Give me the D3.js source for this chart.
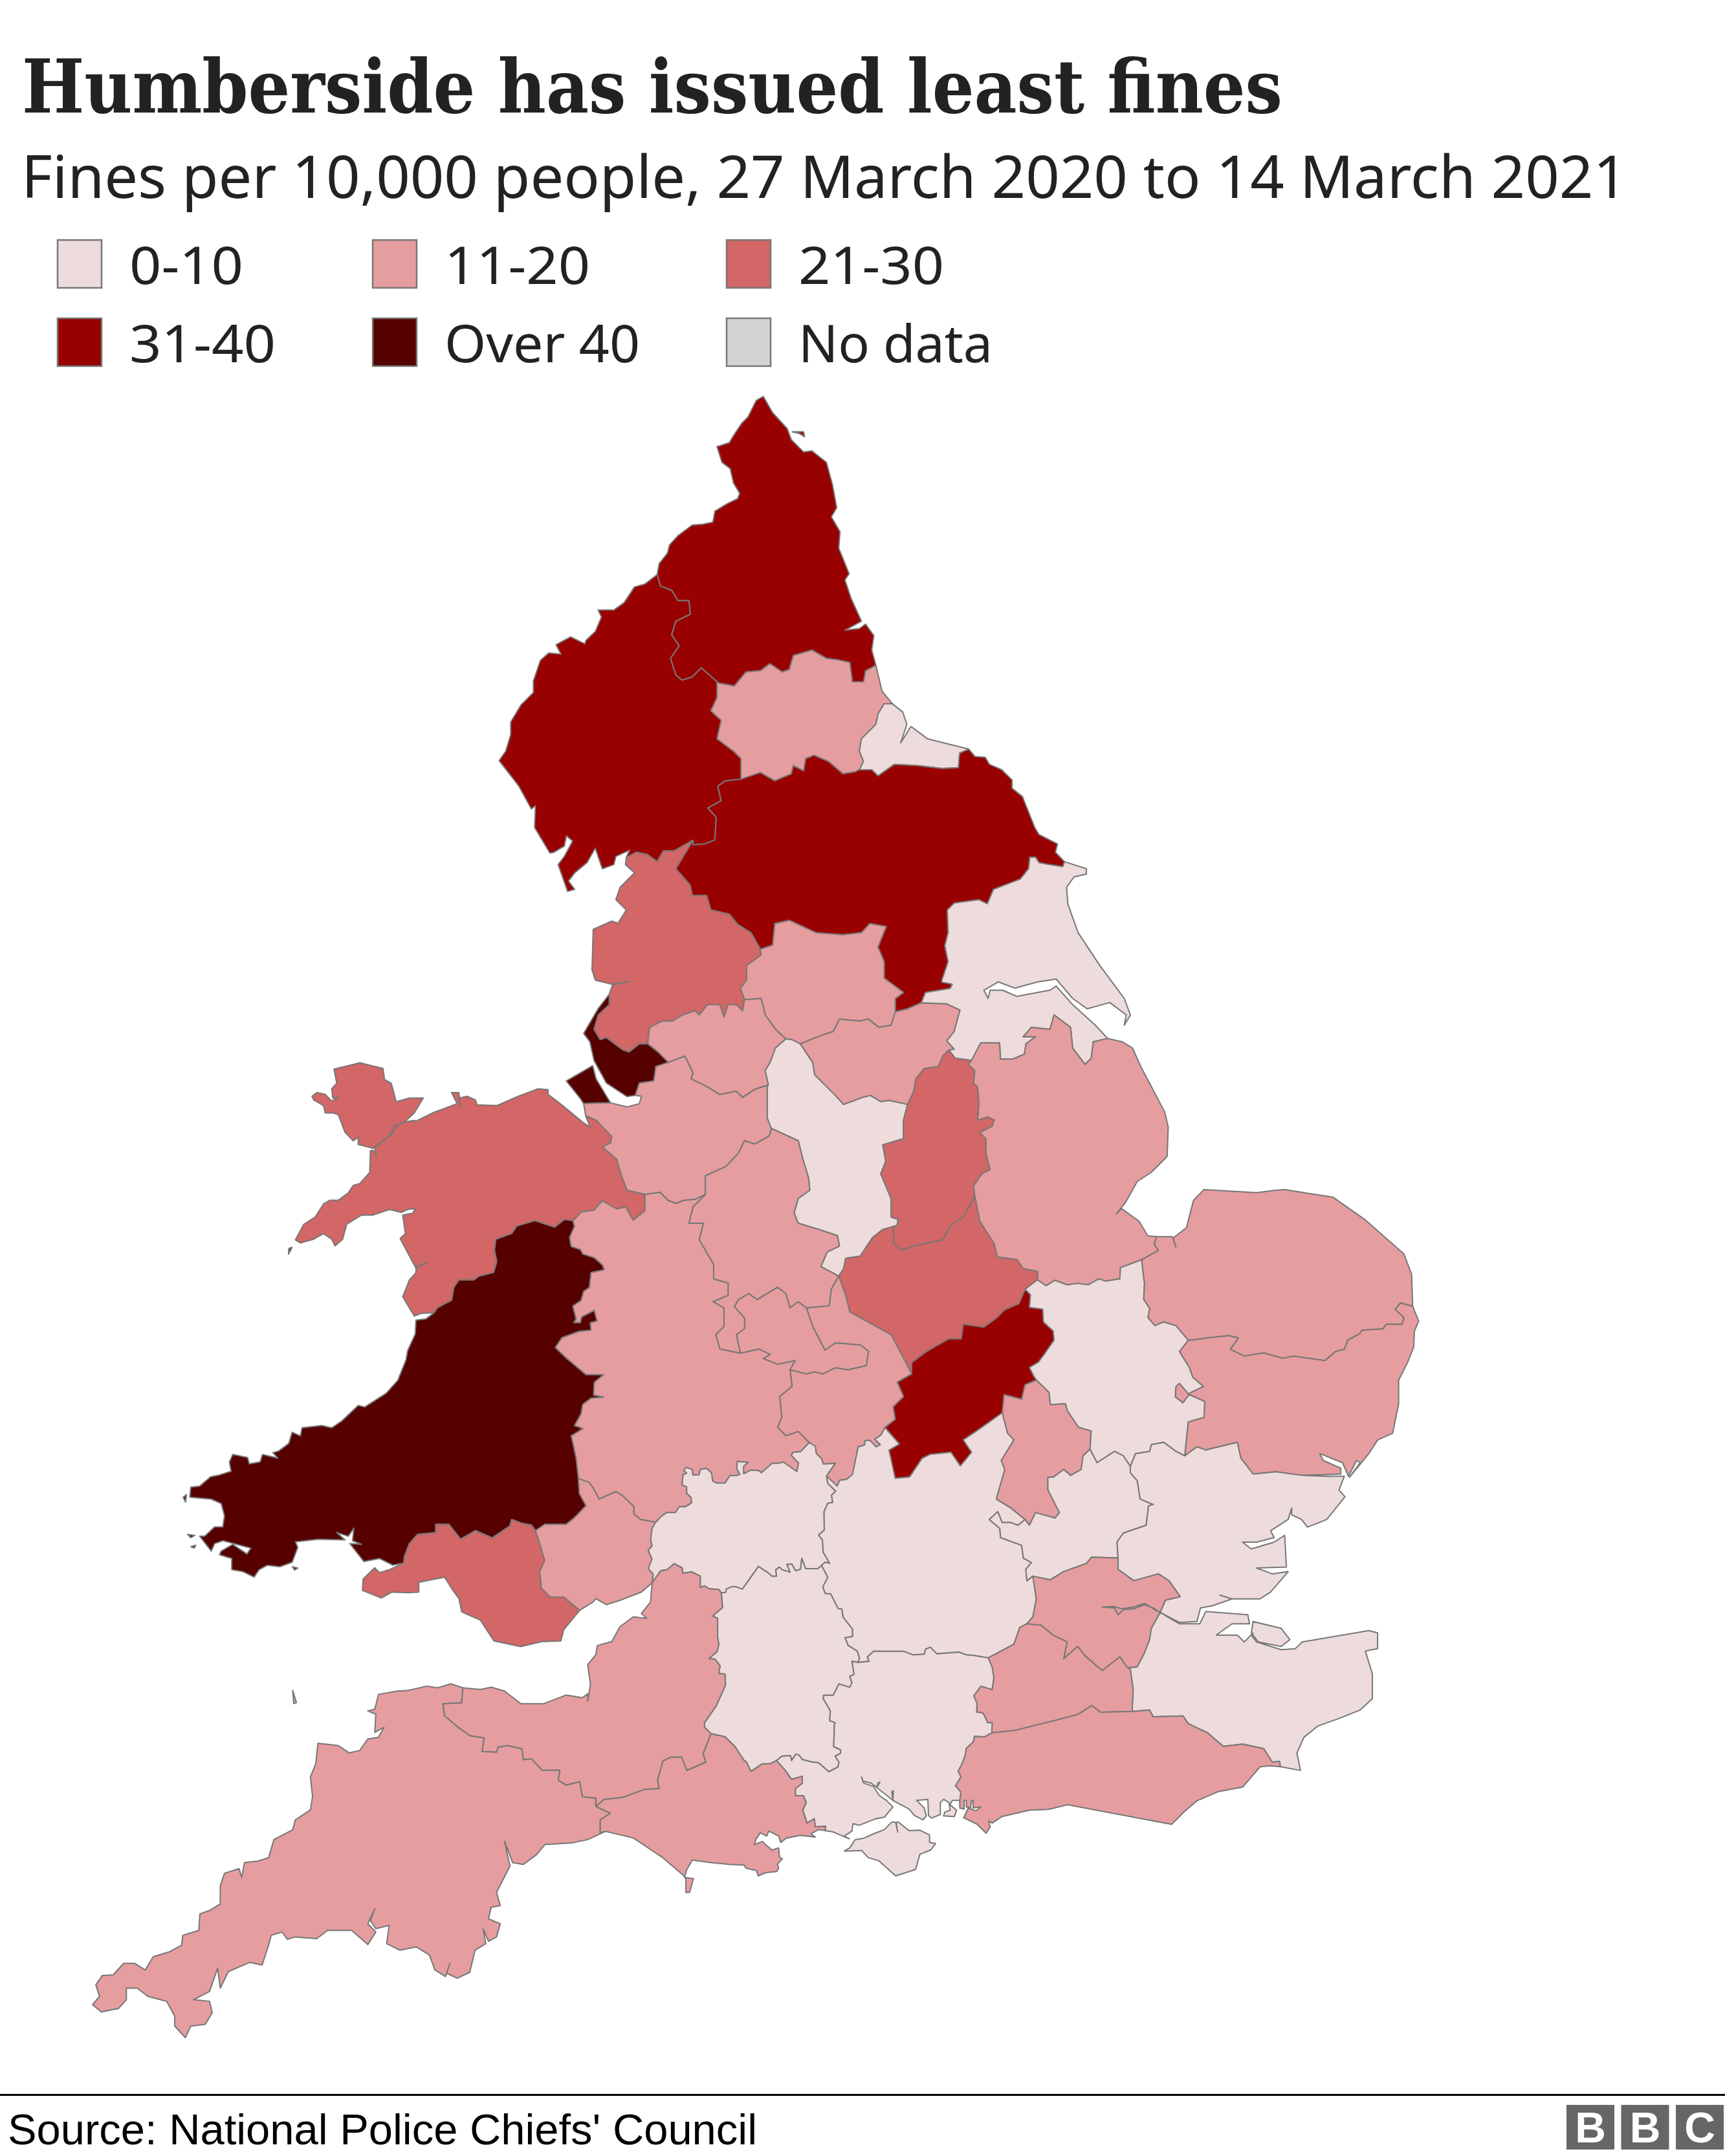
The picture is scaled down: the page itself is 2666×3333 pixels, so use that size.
<!DOCTYPE html>
<html>
<head>
<meta charset="utf-8">
<script src="https://cdn.jsdelivr.net/npm/d3@7"></script>
<style>
  html, body { margin: 0; padding: 0; background: #fff; }
  svg { display: block; }
</style>
</head>
<body>
<script>
// Legend
var bands = ["0-10", "11-20", "21-30", "31-40", "Over 40", "No data"];
var bandColours = ["#eedbdb", "#e59d9f", "#d36666", "#990000", "#560000", "#d3d3d3"];

// Map sheets the boundaries were traced on: left, top, width, height, traced width, traced height
var sheets = {
  N: [700, 600, 1000, 1000, 1568, 1568],
  M: [800, 1400, 1000, 1000, 1568, 1568],
  W: [250, 1600, 800, 900, 1568, 1568],
  E: [1400, 1700, 850, 1100, 1568, 1568],
  S: [100, 2400, 1300, 800, 1568, 1568],
  H: [1150, 2500, 500, 450, 1500, 1350],
  G: [1000, 2200, 600, 500, 1568, 1500]
};

// Boundary arcs, [sheet, x, y, x, y, ...]
// north
var nbCoast = ["N",495,452,500,425,520,400,525,380,545,358,580,332,605,330,630,325,635,298,665,280,690,268,695,255,680,230,672,195,652,180,640,142,670,132,680,115,700,85,715,70,735,30,752,20,775,60,810,98,820,125,850,155,870,152,905,180,920,235,930,290,917,312,938,348,935,388,960,450,950,465,965,510,990,565,950,587,985,583,1000,572,1020,600,1015,635,1025,672];
var holyIsland = ["N",822,106,850,106,852,118,840,110,822,106];
var nbDu = ["N",1025,672,1000,685,995,712,968,712,962,665,930,658,905,655,870,635,825,648,815,682,798,688,768,668,745,685,710,688,682,722,645,715,640,712];
var nbCu = ["N",640,712,602,678,580,700,555,708,540,695,527,655,548,625,530,598,540,565,575,548,572,515,545,515,530,490,503,480,495,452];
var cuCoast = ["N",495,452,465,475,440,482,415,520,390,538,352,538,360,555,345,590,322,612,320,620,285,603,250,622,262,645,232,642,212,660,195,710,195,738,165,768,140,810,140,840,128,880,112,903,160,965,190,1020,200,1012,198,1065,235,1127,245,1125,270,1110,275,1085,290,1098,270,1135,255,1155,278,1220,295,1215,280,1195,295,1175,325,1150,345,1115,362,1165,390,1155,395,1135,428,1120,420,1138];
var cuLa = ["N",420,1138,445,1125,470,1130,495,1148,510,1122,535,1122,582,1096];
var cuNy = ["N",582,1096,582,1107,610,1105,635,1095,638,1040,618,1018,650,1000,642,965,660,952,698,948];
var cuDu = ["N",698,948,698,898,680,880,640,850,650,805,625,782,640,750,640,712];
var duCoast = ["N",1025,672,1040,735,1065,765];
var duCl = ["N",1065,765,1045,765,1030,790,1025,815,990,850,985,880,995,905,985,925];
var duNy = ["N",985,925,975,930,945,935,910,905,875,890,855,898,850,928,825,915,820,935,780,952,745,932,698,948];
var clCoast = ["N",1065,765,1090,785,1100,815,1085,860,1110,820,1150,850,1190,860,1250,875];
var clNy = ["N",1250,875,1228,885,1225,920,1185,922,1125,915,1070,912,1030,940,1015,925,985,925];
var nyCoast = ["N",1250,875,1265,893,1290,895,1300,912,1330,925,1355,950,1355,970,1380,990,1400,1040,1410,1065,1420,1082,1465,1105,1460,1125,1482,1148];
var nyHu = ["N",1482,1148,1478,1160,1445,1155,1420,1150,1412,1137,1398,1137,1395,1165,1375,1190,1310,1215,1295,1250,1275,1240,1215,1248,1198,1265,1200,1320,1192,1352,1200,1390,1185,1435,1185,1440,1210,1445,1205,1455,1145,1465,1135,1490];
var nySy = ["N",1135,1490,1100,1505,1072,1512];
var nyWy = ["N",1072,1512,1072,1480,1092,1465,1045,1430,1045,1390,1030,1355,1050,1305,1010,1298,990,1320,945,1325,880,1320,815,1290,780,1298,775,1350,745,1360];
var nyLa = ["N",745,1360,722,1320,690,1300,670,1275,625,1265,615,1230,580,1230,575,1205,540,1165,582,1096];
var laCoast = ["N",420,1138,418,1155,440,1175,405,1210,395,1240,420,1265,400,1297,385,1292,340,1312,337,1410,345,1435,385,1445,428,1438];
var laCoast2 = ["M",272,182,230,192,222,215];
var laMe = ["M",222,215,222,240,195,265,185,300,200,325,215,320,255,350,270,355,295,335,315,335];
var laGm = ["M",315,335,320,295,350,280,375,280,400,265,430,255,440,265,460,240,490,240,500,270,510,240,530,240,545,255,550,228];
var laWy = ["M",550,228,540,200,555,180,555,145,590,120,590,105];
var wySy = ["M",915,265,905,290,875,295,850,275,830,280,780,275,765,305,735,315,710,325,685,335];
var wyDe = ["M",685,335,665,325,650,323];
var wyGm = ["M",650,323,625,300,600,265,590,225,550,228];
var gmMe = ["M",315,335,340,355,365,380];
var gmCh = ["M",365,380,405,365,425,405,420,420,455,437,490,458,530,450,545,465,575,445,608,435];
var gmDe = ["M",608,435,600,400,612,380,625,345,650,323];
var meCoast = ["M",222,215,195,250,160,310,175,330,185,375,215,430,265,463,285,460];
var meCh = ["M",285,460,295,430,330,425,335,390,365,380];
var wirral = ["M",118,425,182,388,190,420,225,478,160,480,150,465,118,425];
var chCoast = ["M",285,460,300,462,295,480,265,488,225,478,160,480,165,510];
var chNw = ["M",165,510,190,520,228,560,225,575,205,585,240,615,250,650,265,690,308,700];
var chWm = ["M",308,700,345,695,365,715,385,722,400,715,430,712,455,700];
var chSt = ["M",455,700,455,655,505,632,535,600,550,570,575,578,610,558,615,540];
var chDe = ["M",615,540,605,515,605,435,608,435];
var deSy = ["M",685,335,715,380,720,410,750,440,770,460,790,482,835,465,855,460,880,475,900,472,945,482];
var deNt = ["M",945,482,935,520,935,565,885,580,892,620,880,650,905,710,905,755,922,760,920,775,910,778];
var deLe = ["M",910,778,885,785,860,805,830,850,795,855,790,880,778,898];
var deSt = ["M",778,898,735,875,750,840,780,825,775,800,730,785,680,770,670,745,680,710,708,690,705,660,690,610,680,570,620,537];
var syHu = ["M",975,240,1040,238,1072,253,1058,305,1040,328,1058,348,1045,350];
var syNt = ["M",1045,350,1030,365,1020,390,985,395,965,420,960,450,945,482];
var huCoast = ["N",1482,1148,1535,1165,1535,1178,1505,1185,1487,1210,1490,1250,1515,1320,1568,1400];
var huCoast2 = ["M",1411,146,1470,225,1485,265,1470,290,1475,265,1435,235,1380,250,1345,225,1305,178,1260,185,1205,200,1165,185,1130,205,1140,225,1145,205,1175,205,1210,220,1290,205,1305,195,1345,240,1400,290,1430,322];
var huLi = ["M",1430,322,1395,330,1390,370,1375,385,1345,345,1340,295,1300,265,1290,300,1245,295,1225,318,1255,318,1232,335,1228,360,1200,372,1170,372,1168,333,1122,333,1100,375];
var huNt = ["M",1100,375,1060,370,1045,350];
var ntLi = ["M",1100,375,1092,385,1108,400,1105,430,1115,440,1118,480,1115,520,1140,512,1155,520,1150,535,1120,550,1135,565,1135,600,1145,640,1125,650,1105,680,1108,705];
var ntLe = ["M",1108,705,1080,755,1050,775,1030,810,960,825,930,835,912,820,910,778];
var liCoast = ["M",1430,322,1465,330,1490,345,1510,390,1568,500];
var liCoast2 = ["E",748,60,745,125,700,160,660,180,625,228,600,252,615,240,665,268,690,300,715,302];
var liNf = ["E",715,302,708,318,720,332,672,353];
var liCa = ["E",672,353,640,362,612,370,610,395,570,400,550,395,520,408,490,405,460,408,425,398,400,410,375,397];
var leLi = ["M",1108,705,1120,765,1155,820,1162,852,1210,858,1225,880,1260,887];
var leCa = ["E",375,397,340,418];
var leNo = ["M",1235,930,1215,965,1180,980,1160,1000,1130,1022,1080,1015,1075,1050,1045,1050,1010,1070,985,1085,955,1108,955,1135];
var leWa = ["M",955,1135,905,1040,805,985,795,945,780,905];
var stLe = ["M",780,905,778,898];
// east
var nfCoast = ["E",715,302,760,302,770,325,762,305,800,282,820,222,850,198,1000,205,1050,200,1080,198,1218,215,1310,265,1420,340,1442,385,1445,455];
var nfSf = ["E",1445,455,1410,448,1395,462,1420,480,1415,495,1370,495,1360,505,1300,508,1295,515,1260,530,1250,550,1225,555,1195,575,1105,565,1075,570,1020,558,965,565,925,550,948,525,920,520,860,525,815,530,805,530];
var nfCa = ["E",805,530,770,498,735,490,710,498,690,480,695,460,678,440,680,405,672,353];
var sfCoast = ["E",1445,455,1462,488,1450,510,1448,545,1430,580,1405,618,1405,670,1388,735,1345,750,1320,780,1265,832,1295,800,1285,795,1262,830,1245,800,1180,780,1190,795,1240,812,1240,825,1130,828];
var esSf = ["E",1130,828,1055,820,990,825,955,790,945,755,855,772,830,765,795,785];
var sfCa = ["E",795,785,805,710,850,700,852,665,808,650,790,668,768,655,770,632,780,625,805,648,848,632,818,612,808,590,780,555,805,530];
var caEs = ["E",795,785,770,775,735,755,700,760,695,775,655,780,640,808];
var caHe = ["E",640,808,620,785,595,775,545,800,525,770];
var caBd = ["E",525,770,528,730,492,722,460,685,455,670,412,672,408,645,372,618];
var caNo = ["E",372,618,365,610,352,590,378,578,395,560,422,530,420,510,392,490,390,462,352,458,355,430,340,418];
var noBd = ["E",372,618,340,628,330,660,280,650,275,690];
var noTv = ["M",1170,1240,1110,1275,1080,1295,1100,1325,1073,1358,1050,1325,1000,1330,980,1340,950,1385,915,1388,900,1320,925,1305,890,1265];
var noWa = ["M",890,1265,915,1245,910,1215,935,1190,920,1155,955,1135];
var bdTv = ["E",275,690,290,735,308,750,272,795,282,815,258,880,300,900,340,925];
var bdHe = ["E",525,770,505,785,500,815,470,828,450,815,420,832,405,832,405,860,438,910,425,922,370,910,352,938,340,925];
var heTv = ["E",340,925,320,938,300,932,275,932,262,908,238,925,268,945,270,965,330,982,335,1010,358,1020,342,1035,345,1060,362,1050];
var heLo = ["E",362,1050,412,1058,450,1040,515,1022,530,1008,605,1010];
var heEs = ["E",640,808,640,822,660,840,668,880,705,892,692,895,685,938,620,955,602,975,605,1010];
var loEs = ["E",605,1010,605,1035,650,1060,720,1045,750,1060,782,1095,740,1103,725,1130];
var thames = ["E",725,1130,705,1120,680,1113,650,1122,620,1124,605,1135,595,1120,560,1118,595,1117,615,1122,650,1118,680,1110,710,1124,725,1135];
var esCoast = ["E",1130,828,1200,830,1250,830,1235,860,1252,875,1200,925,1145,942,1128,925,1100,915,1100,900,1090,925,1040,950,1050,965,1000,975,960,975,985,990,1050,975,1080,960,1085,1030,1000,1032,1045,1045,1090,1040,1040,1085,1010,1100,930,1100,895,1092,930,1100,875,1115,840,1120,830,1150,780,1152,725,1130];
var loKe = ["E",725,1135,700,1165,695,1190,680,1220,660,1250,632,1252];
var suLo = ["E",345,1155,385,1158,420,1180,460,1195,450,1232,490,1205,510,1225,540,1245,560,1258,610,1228,632,1252];
var loTv = ["E",362,1050,372,1100,362,1140,345,1155];
var suTv = ["E",345,1155,325,1163,308,1200,235,1230];
var suSx = ["E",245,1395,310,1390,415,1370,490,1355,530,1335,555,1350,645,1348];
var keSu = ["E",632,1252,640,1255,648,1300,645,1348];
var keSx = ["E",645,1348,695,1345,705,1360,790,1358,805,1375,860,1395,905,1425,960,1420,1020,1430,1045,1460,1065,1458,1068,1470];
var keCoast = ["E",1068,1470,1125,1478,1115,1440,1135,1405,1175,1380,1230,1365,1295,1345,1330,1320,1330,1265,1310,1215,1345,1210,1345,1175,1320,1170,1130,1195,1110,1210,1070,1212,1000,1195,985,1180,990,1175,965,1195,945,1180,885,1180,930,1155,980,1155,975,1135,855,1128,838,1155,780,1155,725,1135];
var sheppey = ["E",990,1150,1070,1165,1095,1190,1070,1205,1005,1195,985,1175,990,1150];
var sxCoast2 = ["E",758,1597,795,1568,830,1545,890,1525,960,1515,1010,1470,1040,1468,1068,1470];
// south
var sxCoast = ["H",1000,850,1000,885,1020,890,1020,850,1030,850,1030,880,1050,885,1055,850,1062,850,1062,885,1098,880,1075,898,1040,885,1018,930,1080,960,1122,1002,1140,975,1135,945,1150,955,1195,925,1325,895,1410,892,1500,870];
var suHa = ["H",1122,205,1150,232,1158,280,1150,335,1098,320,1065,365,1080,400,1078,440,1108,445,1130,490,1150,490,1142,527];
var haSx = ["H",1142,527,1115,555,1068,552,1062,578,1030,608,1025,640,1010,680,992,715,1005,740,980,782,1005,812,1000,850];
var haCoast = ["H",1000,850,965,850,955,870,985,895,975,925,925,922,930,905,955,895,950,860,925,845,910,860,910,915,870,932,855,920,852,845,800,850,835,885,845,920,830,940,790,920,765,890,690,850,692,805,685,810,690,850,615,790,630,765,620,770,615,790,590,770,550,760,545,742,555,770,600,785,625,825,660,850,690,880,650,928,610,935,535,965,505,958,500,992,465,1015,488,1028,465,1018,410,995,375,990];
var wight = ["H",465,1085,490,1070,515,1032,555,1025,600,1005,650,985,685,950,703,952,712,997,705,952,715,950,765,990,815,988,860,1010,860,1045,888,1050,865,1080,815,1100,795,1170,703,1200,625,1130,575,1115,545,1082,465,1085];
var wiHa = ["H",150,665,175,645,215,642,220,665,240,635,255,640,270,660,315,672,345,675,393,717,435,695,440,672,422,645,447,632,447,615,415,600,418,535,418,500,423,490,397,480,400,435,385,408,368,380,368,362,413,362,440,310,490,325,500,305,490,275,510,265,498,205];
var wiDo2 = ["H",0,665,10,670,32,715,85,680,120,680,150,665];
var doHa = ["H",150,665,190,710,220,752,270,738,270,770,238,795,238,828,275,828,288,860,272,895,292,955,325,935,330,972,378,970,375,990];
var doCoast = ["H",375,990,345,985,310,1005,330,1020,260,1012,195,1025,170,1045,160,1015,115,992,105,1015,75,1000,55,1030,48,1055,85,1040,105,1060,130,1080,160,1070,165,1115,178,1120,155,1145,160,1165,150,1180,100,1185,65,1200,58,1175,10,1165,0,1150];
var glWm = ["G",35,460,60,430,80,415,115,415,130,388,155,388,180,370,178,345,160,325,160,295,142,288,145,240,160,232,148,220,158,205,182,215,185,240,210,240,215,215,240,210,260,230,265,268,280,278,315,278,335,243,362,243,375,238,362,210,365,178,408,182,390,200,390,235,420,218,450,220,462,230,505,187,530,187,550,180,605,225,612,185,583,150,590,135,620,133,655,90];
var glWa = ["G",655,90,680,108,683,140,705,165,712,190,760,187,725,245];
var tvWa = ["G",725,245,768,292,778,265,805,262,830,238,853,110,878,102,882,80,900,80,925,110,942,100,920,75,945,55,963,12];
var glTv = ["G",725,245,730,280,762,315,745,335,750,368,730,372,715,410,716,495,693,520,708,540,712,600,738,650,720,645,705,660];
var glWi = ["G",705,660,690,675,640,675,625,628,620,678,600,685,585,655,565,655,578,692,545,680,535,668,520,680,523,710,505,710,490,695,450,665,385,770,362,760,345,758,320,770,318,785,300,788];
var glAv = ["G",300,788,290,772,250,768,232,755,215,762,215,710,180,690,145,697,142,672,110,652,80,680,55,685,35,745];
var gwGl = ["G",35,745,25,700,5,675,20,630,5,590,20,570,15,540,20,490,35,460];
var wiAv = ["G",300,788,305,855,265,895,285,905,285,990,290,1025,283,1060,250,1092,275,1095,295,1125,290,1160,315,1165,317,1215,280,1310,232,1390,232,1410,258,1440];
var wiDo1 = ["G",258,1440,315,1455,355,1500];
var wiTv = ["G",705,660,730,715,710,760,720,790,742,792,772,860,787,862,792,900,830,955,830,990,800,995,812,1030,850,1058,858,1090,852,1110,828,1105];
var haTv = ["G",1370,1100,1320,1078,1290,1075,1260,1062,1170,1070,1145,1040,1125,1048,1120,1072,1075,1075,1035,1058,915,1058,890,1085,897,1105,852,1110,828,1105];
var avCoast = ["S",742,410,775,415,795,408,820,420,850,458,893,458,935,432,965,440,975,428,975,450,980,400,975,340,990,310,993,282,1020,270,1035,225,1060,195,1085,200,1075,185,1092,150,1095,92];
var avDe = ["S",990,770,990,745,965,740,960,695,935,705,920,690,923,660,890,660,870,625,855,628,852,595,825,585,808,590,805,605,778,603,782,562,755,555,735,532,708,495,705,458,740,455,742,410];
var doAv = ["S",1200,550,1190,610,1195,635,1160,660,1150,620,1130,620,1115,632,1105,690,1108,715,1080,718,1040,742,1005,748,990,770];
var doDe = ["S",990,770,1017,790,998,810,998,850,1008,845];
var doCoast2 = ["S",1265,955,1240,945,1205,940,1170,932,1160,960,1155,985,1172,988,1165,1030,1158,1030,1158,985,1115,925,1060,865,1008,845];
var deCoast = ["S",742,410,720,398,695,410,675,405,640,418,620,420,585,430,578,475,565,480,580,490,578,545,595,530,585,560,565,565,550,600,530,607,510,585,472,578,468,640,458,680,462,740,458,780,430,810,425,840,390,870,380,925,360,935,335,940,330,985,325,958,298,972,290,1010,290,1065,270,1085,252,1095,250,1145,220,1160,218,1190,195,1210,165,1225,150,1265,130,1245,110,1245,90,1280,70,1282,58,1310,65,1345,52,1370,68,1392,100,1382,115,1355,115,1320,135,1320,155,1345,190,1360,205,1405,205,1435,225,1470,235,1435,262,1430,275,1395,270,1360,240,1355,270,1330,285,1260,290,1320,305,1270,345,1242,368,1250,380,1190,385,1160,405,1150,415,1172,430,1165,470,1170,490,1145,535,1145,565,1188,580,1150,565,1125,578,1080,570,1115,580,1140,605,1130,600,1185,625,1205,655,1195,680,1220,690,1265,710,1285,718,1245,712,1275,732,1290,755,1272,765,1205,785,1185,780,1140,790,1178,805,1165,812,1125,790,1110,795,1075,812,1070,805,1030,830,950,820,875,835,940,855,945,880,915,895,885,945,880,975,870,1008,845];
var lundy = ["S",425,418,432,455,427,458,425,418];
// wales
var nwCoast = ["W",825,748,785,750,765,757,730,705,750,660,770,640,770,625,805,612,770,628,722,548,738,535,730,485,760,480,768,468,745,470,725,478,690,470,640,485,605,485,560,510,548,550,525,568,515,550,490,535,460,550,420,560,405,552,430,510,465,490,490,455,510,445,535,445,565,425,580,405,600,400,630,370,632,312,640,310,650,325,645,305,690,270,710,245,730,235,765,230,770,232,820,210,895,185,878,155,900,155,905,195,900,170,925,165,950,175,955,188,1015,190,1080,165,1140,145,1170,147,1170,160,1200,180,1235,205,1275,235,1298,248];
var nwWm = ["M",140,765,155,742,185,738,205,715,240,735,262,730,280,762,308,740,308,700];
var anglesey = ["W",522,92,600,75,670,90,675,120,695,130,710,180,750,170,792,170,765,210,735,235,705,245,700,265,640,305,595,295,595,275,580,285,555,262,535,215,520,210,495,210,490,190,460,175,455,165,470,155,495,160,515,178,535,168,518,170,515,145,530,130,522,92];
var dpNw = ["W",1245,500,1220,497,1190,518,1130,500,1075,515,1060,535,1012,550,1008,580,1015,610,1005,640,960,650,945,660,900,660,885,680,878,715,855,725,835,735,825,748];
var dpWm = ["W",1262,1195,1255,1140,1245,1098,1240,1080,1275,1060,1250,1052,1270,1020,1275,995,1300,978,1338,975,1308,970,1310,935,1338,915,1285,915,1245,885,1225,870,1192,842,1212,815,1265,798,1300,795,1298,775,1318,770,1310,742,1272,760,1268,775,1248,775,1255,765,1245,730,1270,715,1278,690,1295,680,1300,640,1340,632,1335,620,1310,600,1275,590,1268,578,1240,570,1235,545,1250,515,1245,500];
var dpCoast = ["W",825,748,800,765,770,768,768,805,745,850,740,875,715,930,680,965,615,1002,595,998,545,1040,515,1058,485,1052,425,1058,420,1080,395,1070,385,1100,355,1120,337,1125,352,1140,305,1130,298,1150,265,1155,260,1138,215,1130,205,1150,210,1175,175,1185,148,1190,115,1215,88,1218,85,1245,150,1250,180,1262,190,1295,185,1325,160,1325,130,1350,115,1350,150,1390,160,1370,185,1362,270,1382,258,1398,215,1372,180,1390,175,1400,212,1410,212,1440,245,1445,280,1460,295,1440,320,1428,358,1432,395,1420,412,1380,405,1365,475,1358,555,1360,530,1340,565,1350,582,1328,578,1362,605,1372,570,1370,612,1418,660,1410,700,1428,733,1422];
var dpGw = ["W",1262,1195,1265,1235,1285,1268,1250,1300,1225,1318,1160,1318,1132,1335];
var dpSw = ["W",1132,1335,1120,1320,1090,1315,1060,1305,1055,1322,1000,1355,990,1350,950,1335,905,1358,870,1318,830,1318,830,1340,775,1345];
var dpSw2 = ["W",775,1345,750,1370,735,1405,733,1422];
var skomer = ["W",65,1245,75,1238,72,1258,65,1245];
var ramsey = ["W",78,1345,100,1348,88,1354,78,1345];
var skokholm = ["W",88,1378,103,1374,98,1382,88,1378];
var caldey = ["W",396,1432,412,1436,402,1441,396,1432];
var bardsey = ["W",385,575,395,572,384,590,385,575];
var swCoast = ["W",733,1422,690,1440,660,1448,645,1435,610,1465];
var swCoast2 = ["S",560,75,555,115,590,138,610,120,640,122,660,120,660,90,708,75,725,118,735,140,740,180,775,205,800,268,850,285,890,270,925,268,930,235,960,175];
var gwSw1 = ["W",1132,1335,1145,1370,1160,1415,1145,1445,1150,1490,1175,1515];
var gwSw2 = ["S",905,135,930,135,960,175];
var gwCoast = ["S",960,175,985,150,990,140,1010,158,1035,145,1075,120,1095,92];
var gwWm = ["W",1495,1305,1450,1305,1430,1290,1430,1270,1395,1240,1375,1230,1325,1250,1310,1225,1295,1205,1262,1195];
// midlands
var stWm = ["M",455,700,425,730,415,770,450,770,440,810,475,870,475,905,510,915,510,945,473,960,500,975,500,1020,480,1040,490,1075,540,1085];
var wmiSt = ["M",700,975,680,960,660,975,650,940,630,925,580,955,560,940,535,955,525,972,550,1000,550,1025,530,1040,540,1085];
var wmiWm = ["M",540,1085,585,1075,612,1088,595,1098,630,1112,672,1103,660,1125];
var wmiWa = ["M",660,1125,700,1135,720,1130,740,1135,770,1120,800,1125,845,1115,850,1080,830,1065,770,1060,745,1078,715,1020,700,975];
var wmWa = ["M",660,1125,665,1165,635,1190,640,1240,630,1265,650,1285,680,1275,710,1300];
var stWa = ["M",700,975,755,970,760,930,780,905];

var r = function (arc) { return { rev: arc }; };

// Police forces, one band and one list of rings each
var forceNames = ["Northumbria", "Cumbria", "Durham", "Cleveland", "North Yorkshire", "Lancashire", "West Yorkshire",
  "Greater Manchester", "Merseyside", "Cheshire", "Derbyshire", "South Yorkshire", "Humberside", "Nottinghamshire",
  "Lincolnshire", "Leicestershire", "Norfolk", "Suffolk", "Cambridgeshire", "Northamptonshire", "Warwickshire",
  "West Midlands", "Staffordshire", "West Mercia", "North Wales", "Dyfed-Powys", "South Wales", "Gwent",
  "Gloucestershire", "Wiltshire", "Thames Valley", "Bedfordshire", "Hertfordshire", "Essex", "London", "Kent",
  "Surrey", "Sussex", "Hampshire", "Dorset", "Avon and Somerset", "Devon and Cornwall"];
var forceBands = ["31-40", "31-40", "11-20", "0-10", "31-40", "21-30", "11-20",
  "11-20", "Over 40", "11-20", "0-10", "11-20", "0-10", "21-30",
  "11-20", "21-30", "11-20", "11-20", "0-10", "31-40", "11-20",
  "11-20", "11-20", "11-20", "21-30", "Over 40", "21-30", "11-20",
  "0-10", "0-10", "0-10", "11-20", "0-10", "0-10", "11-20", "0-10",
  "11-20", "11-20", "0-10", "11-20", "11-20", "11-20"];
var forceRings = [
  [[nbCoast, nbDu, nbCu], [holyIsland]],
  [[cuCoast, cuLa, cuNy, cuDu, nbCu]],
  [[r(nbDu), duCoast, duCl, duNy, cuDu]],
  [[clCoast, clNy, r(duCl)]],
  [[nyCoast, nyHu, nySy, nyWy, nyLa, cuNy, r(duNy), r(clNy)]],
  [[laCoast, laCoast2, laMe, laGm, laWy, nyLa, r(cuLa)]],
  [[r(nyWy), wySy, wyDe, wyGm, laWy]],
  [[r(laGm), gmMe, gmCh, gmDe, wyGm]],
  [[r(laMe), meCoast, meCh, r(gmMe)], [wirral]],
  [[chCoast, chNw, chWm, chSt, chDe, r(gmCh), r(meCh)]],
  [[gmDe, r(wyDe), deSy, deNt, deLe, deSt, chDe]],
  [[r(nySy), syHu, syNt, r(deSy), r(wySy)]],
  [[huCoast, huCoast2, huLi, huNt, r(syHu), r(nyHu)]],
  [[r(huNt), ntLi, ntLe, r(deNt), r(syNt)]],
  [[r(huLi), liCoast, liCoast2, liNf, liCa, r(leLi), r(ntLi)]],
  [[leLi, leCa, leNo, leWa, stLe, r(deLe), r(ntLe)]],
  [[nfCoast, nfSf, nfCa, r(liNf)]],
  [[sfCoast, esSf, sfCa, r(nfSf)]],
  [[r(nfCa), r(sfCa), caEs, caHe, caBd, caNo, r(leCa), r(liCa)]],
  [[r(caNo), noBd, noTv, noWa, r(leNo)]],
  [[r(noWa), r(tvWa), r(glWa), r(wmWa), wmiWa, stWa, r(leWa)]],
  [[wmiSt, wmiWm, wmiWa]],
  [[r(chSt), stWm, r(wmiSt), stWa, stLe, deSt]],
  [[chWm, stWm, wmiWm, wmWa, r(glWm), gwWm, dpWm, nwWm]],
  [[nwCoast, chNw, r(nwWm), dpNw], [anglesey]],
  [[r(dpNw), r(dpWm), dpGw, dpSw, dpSw2, r(dpCoast)], [skomer], [ramsey], [skokholm], [caldey], [bardsey]],
  [[dpSw2, swCoast, swCoast2, r(gwSw2), r(gwSw1), dpSw]],
  [[dpGw, gwSw1, gwSw2, gwCoast, gwGl, gwWm]],
  [[glWm, glWa, glTv, glWi, glAv, gwGl]],
  [[r(glWi), wiTv, r(wiHa), r(wiDo2), r(wiDo1), r(wiAv)]],
  [[tvWa, r(noTv), bdTv, heTv, loTv, suTv, haTv, r(wiTv), r(glTv)]],
  [[r(noBd), r(caBd), bdHe, r(bdTv)]],
  [[r(bdHe), r(caHe), heEs, r(heLo), r(heTv)]],
  [[esSf, caEs, heEs, loEs, r(esCoast)]],
  [[heLo, loEs, thames, loKe, r(suLo), r(loTv)]],
  [[keCoast, loKe, keSu, keSx], [sheppey]],
  [[suLo, keSu, r(suSx), r(suHa), r(suTv)]],
  [[suSx, keSx, r(sxCoast2), r(sxCoast), r(haSx)]],
  [[r(haTv), suHa, haSx, haCoast, r(doHa), wiHa], [wight]],
  [[wiDo1, wiDo2, doHa, doCoast, doCoast2, r(doDe), r(doAv)]],
  [[avCoast, r(glAv), wiAv, doAv, avDe]],
  [[r(avDe), doDe, r(deCoast)], [lundy]]
];

// Page scale, sheets to page pixels
var sheetScales = {};
Object.keys(sheets).forEach(function (k) {
  var s = sheets[k];
  sheetScales[k] = {
    x: d3.scaleLinear().domain([0, s[4]]).range([s[0], s[0] + s[2]]),
    y: d3.scaleLinear().domain([0, s[5]]).range([s[1], s[1] + s[3]])
  };
});

// arcs traced on different sheets meet at the same junction point
var nodes = [];
function snap(p) {
  for (var i = 0; i < nodes.length; i++) {
    if (Math.hypot(nodes[i][0] - p[0], nodes[i][1] - p[1]) < 10) return nodes[i];
  }
  nodes.push(p);
  return p;
}

var traced = new Map();
function arcCoords(arc) {
  if (!traced.has(arc)) {
    var sc = sheetScales[arc[0]], pts = [];
    for (var i = 1; i < arc.length; i += 2) pts.push([sc.x(arc[i]), sc.y(arc[i + 1])]);
    pts[0] = snap(pts[0]);
    pts[pts.length - 1] = snap(pts[pts.length - 1]);
    traced.set(arc, pts);
  }
  return traced.get(arc);
}

function ringCoords(parts) {
  var out = [];
  parts.forEach(function (p) {
    var c = arcCoords(p.rev || p);
    out = out.concat(p.rev ? c.slice().reverse() : c);
  });
  out.push(out[0]);
  return out;
}

var features = forceNames.map(function (name, i) {
  return {
    type: "Feature",
    properties: { name: name, band: forceBands[i] },
    geometry: { type: "MultiPolygon", coordinates: forceRings[i].map(function (ring) { return [ringCoords(ring)]; }) }
  };
});

var width = 2666, height = 3333;
var colour = d3.scaleOrdinal(bands, bandColours);
var path = d3.geoPath(d3.geoIdentity());

var svg = d3.select("body").append("svg").attr("width", width).attr("height", height).style("background", "#fff");

svg.append("g").selectAll("path")
  .data(features)
  .join("path")
    .attr("d", path)
    .attr("fill", function (d) { return colour(d.properties.band); })
    .attr("stroke", "#777777")
    .attr("stroke-width", 2)
    .attr("stroke-linejoin", "round");

// Title and subtitle
svg.append("text").attr("x", 34).attr("y", 174)
  .attr("font-family", "'DejaVu Serif', serif").attr("font-weight", 700).attr("font-size", 115)
  .attr("fill", "#222222").attr("textLength", 1948).attr("lengthAdjust", "spacingAndGlyphs")
  .text("Humberside has issued least fines");
svg.append("text").attr("x", 33).attr("y", 306)
  .attr("font-family", "'Noto Sans', sans-serif").attr("font-size", 91)
  .attr("fill", "#222222").attr("textLength", 2482).attr("lengthAdjust", "spacingAndGlyphs")
  .text("Fines per 10,000 people, 27 March 2020 to 14 March 2021");

// Legend, three columns of two rows
var legendX = d3.scaleOrdinal([0, 1, 2], [88, 575, 1122]);
var legendY = d3.scaleOrdinal([0, 1], [370, 491]);
var legendTextWidth = d3.scaleOrdinal(bands, [176, 225, 225, 226, 302, 300]);
var legend = svg.append("g").selectAll("g")
  .data(bands)
  .join("g")
    .attr("transform", function (d, i) { return "translate(" + legendX(i % 3) + "," + legendY(Math.floor(i / 3)) + ")"; });
legend.append("rect")
  .attr("x", 1).attr("y", 1).attr("width", 68).attr("height", 74)
  .attr("fill", function (d) { return colour(d); })
  .attr("stroke", "#777777").attr("stroke-width", 2.5);
legend.append("text")
  .attr("x", 112).attr("y", 69)
  .attr("font-family", "'Noto Sans', sans-serif").attr("font-size", 81).attr("fill", "#222222")
  .attr("textLength", function (d) { return legendTextWidth(d); }).attr("lengthAdjust", "spacingAndGlyphs")
  .text(function (d) { return d; });

// Footer
svg.append("rect").attr("x", 0).attr("y", 3237).attr("width", width).attr("height", 3).attr("fill", "#000");
svg.append("text").attr("x", 12).attr("y", 3315)
  .attr("font-family", "'Liberation Sans', sans-serif").attr("font-size", 66).attr("fill", "#000")
  .attr("textLength", 1158).attr("lengthAdjust", "spacingAndGlyphs")
  .text("Source: National Police Chiefs' Council");

var logo = svg.append("g").selectAll("g")
  .data(["B", "B", "C"])
  .join("g")
    .attr("transform", function (d, i) { return "translate(" + (2421 + i * 84.5) + ",3254)"; });
logo.append("rect").attr("width", 74).attr("height", 69).attr("fill", "#666666");
logo.append("text")
  .attr("x", 37).attr("y", 58)
  .attr("text-anchor", "middle")
  .attr("font-family", "'Liberation Sans', sans-serif").attr("font-weight", 700).attr("font-size", 66).attr("fill", "#fff")
  .text(function (d) { return d; });
</script>
</body>
</html>
